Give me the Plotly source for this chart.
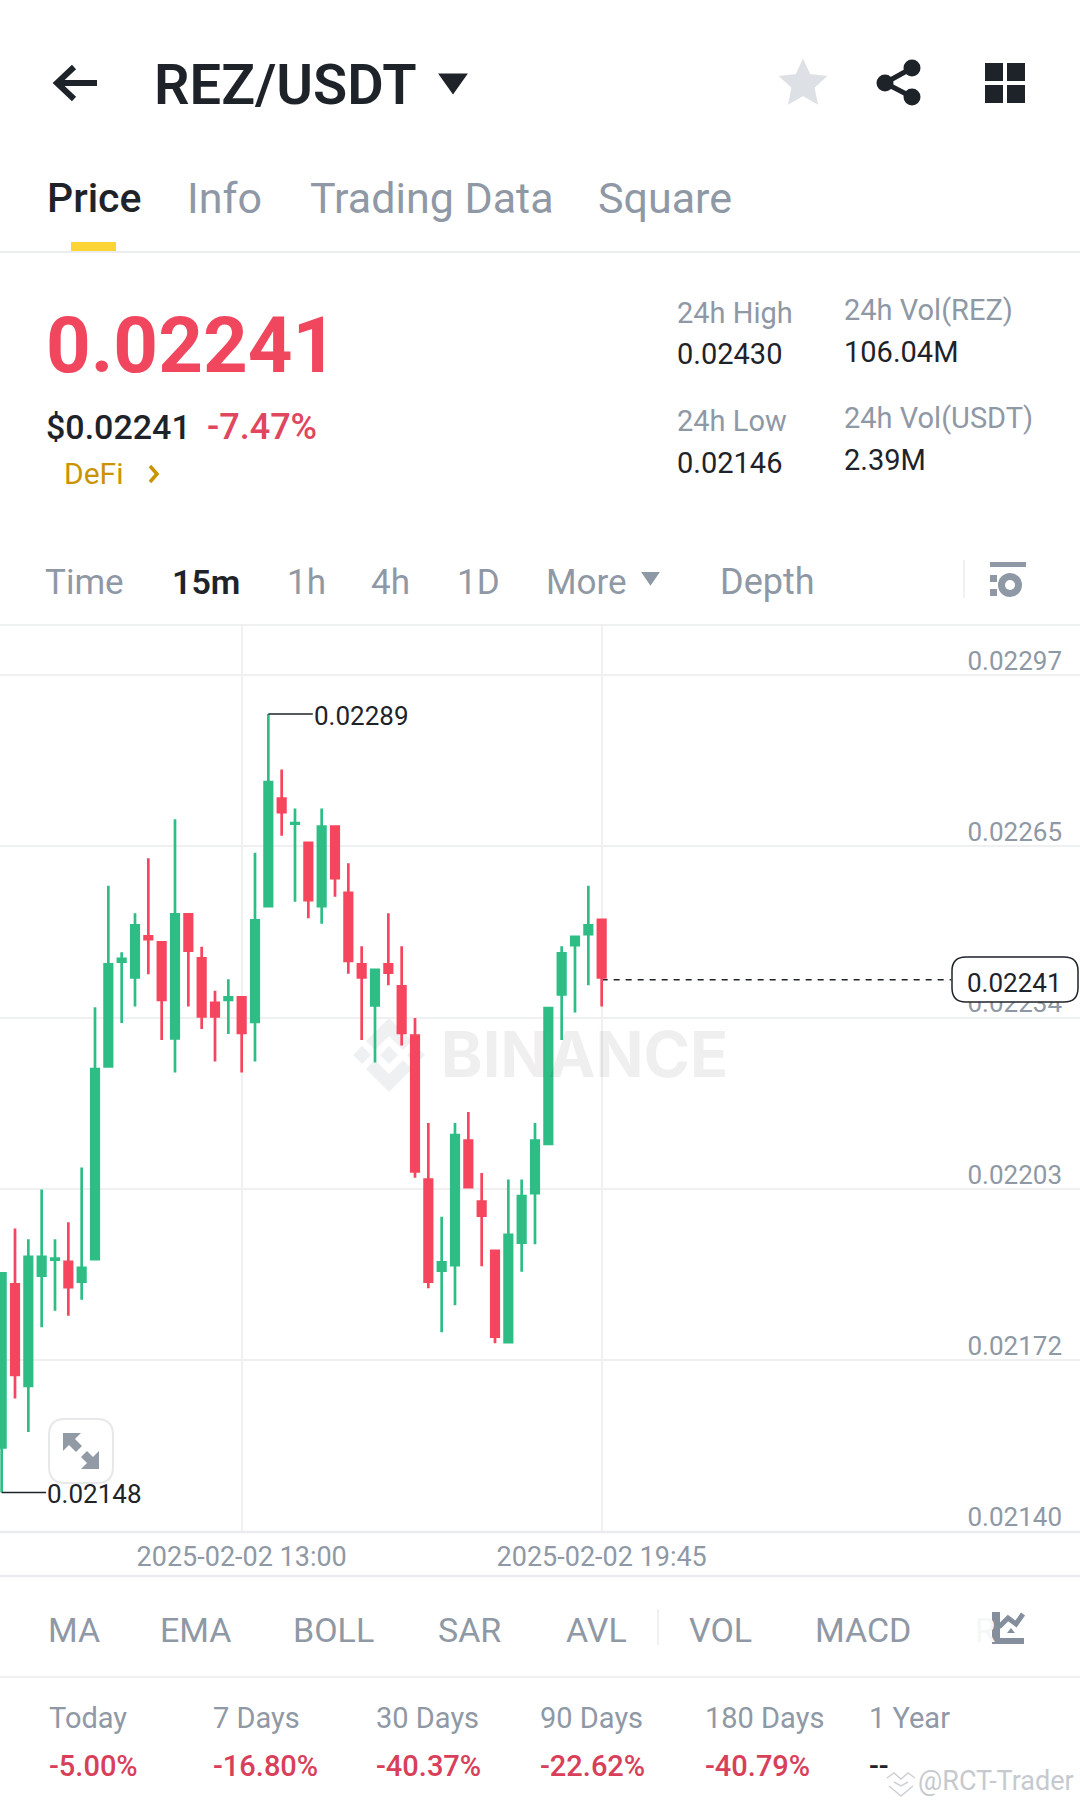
import math
import pandas as pd
import plotly.graph_objects as go

W = 1080
H = 1804

# 15m candles, 08:30 to 19:45
times = pd.date_range("2025-02-02 08:30", "2025-02-02 19:45", freq="15min")
opens = [0.021558, 0.021855, 0.021670, 0.021871, 0.021900, 0.021896, 0.021860, 0.021901, 0.022252, 0.022443,
         0.022414, 0.022489, 0.022478, 0.022303, 0.022529, 0.022449, 0.022368, 0.022373, 0.022378, 0.022333,
         0.022544, 0.022740, 0.022694, 0.022659, 0.022544, 0.022689, 0.022568, 0.022438, 0.022363, 0.022438,
         0.022398, 0.022308, 0.022046, 0.021880, 0.021890, 0.022117, 0.022006, 0.021916, 0.021750, 0.021931,
         0.022021, 0.022111, 0.022383, 0.022473, 0.022493, 0.022519]
highs = [0.021875, 0.021957, 0.021937, 0.022028, 0.021937, 0.021968, 0.022068, 0.022360, 0.022581, 0.022460,
         0.022531, 0.022631, 0.022478, 0.022702, 0.022529, 0.022470, 0.022390, 0.022411, 0.022378, 0.022641,
         0.022894, 0.022793, 0.022722, 0.022659, 0.022722, 0.022689, 0.022622, 0.022471, 0.022428, 0.022531,
         0.022471, 0.022340, 0.022149, 0.021978, 0.022149, 0.022169, 0.022058, 0.021916, 0.022046, 0.022046,
         0.022149, 0.022358, 0.022471, 0.022488, 0.022581, 0.022519]
lows = [0.021476, 0.021647, 0.021586, 0.021777, 0.021807, 0.021798, 0.021827, 0.021901, 0.022252, 0.022331,
        0.022361, 0.022420, 0.022300, 0.022241, 0.022361, 0.022320, 0.022261, 0.022311, 0.022241, 0.022261,
        0.022544, 0.022672, 0.022552, 0.022522, 0.022512, 0.022561, 0.022421, 0.022300, 0.022259, 0.022400,
        0.022290, 0.022049, 0.021848, 0.021768, 0.021817, 0.022032, 0.021888, 0.021748, 0.021750, 0.021878,
        0.021928, 0.022111, 0.022300, 0.022350, 0.022400, 0.022361]
closes = [0.021875, 0.021690, 0.021905, 0.021905, 0.021902, 0.021850, 0.021885, 0.022247, 0.022438, 0.022448,
          0.022509, 0.022484, 0.022373, 0.022529, 0.022463, 0.022343, 0.022343, 0.022378, 0.022313, 0.022518,
          0.022770, 0.022715, 0.022695, 0.022555, 0.022689, 0.022595, 0.022444, 0.022414, 0.022428, 0.022423,
          0.022313, 0.022061, 0.021860, 0.021895, 0.022127, 0.022032, 0.021980, 0.021760, 0.021945, 0.022016,
          0.022117, 0.022358, 0.022458, 0.022488, 0.022509, 0.022414]

price_ticks = [0.022965, 0.022654, 0.022341, 0.022029, 0.021718, 0.021405]
price_labels = ["0.02297", "0.02265", "0.02234", "0.02203", "0.02172", "0.02140"]
time_ticks = ["2025-02-02 13:00", "2025-02-02 19:45"]
time_labels = ["2025-02-02 13:00", "2025-02-02 19:45"]
last_price = "0.02241"

tabs = ["Price", "Info", "Trading Data", "Square"]
tab_x = [46, 186, 309, 597]
intervals = ["Time", "15m", "1h", "4h", "1D", "More", "Depth"]
interval_x = [44, 171, 286, 370, 456, 545, 719]
indicators = ["MA", "EMA", "BOLL", "SAR", "AVL", "VOL", "MACD"]
indicator_x = [47, 159, 292, 437, 565, 688, 814]
periods = ["Today", "7 Days", "30 Days", "90 Days", "180 Days", "1 Year"]
period_changes = ["-5.00%", "-16.80%", "-40.37%", "-22.62%", "-40.79%", "--"]
period_x = [48, 212, 375, 539, 704, 868]

GREEN = "#2EBD85"
RED = "#F6465D"
DARK = "#1E2329"
GRAY = "#8F98A5"
GRID = "#EEF0F2"
FONT = "Roboto"

fig = go.Figure(go.Candlestick(
    x=times, open=opens, high=highs, low=lows, close=closes,
    increasing=dict(line=dict(color=GREEN, width=2.7), fillcolor=GREEN),
    decreasing=dict(line=dict(color=RED, width=2.7), fillcolor=RED),
    whiskerwidth=0, showlegend=False, hoverinfo="skip"))


def px(x):
    return x / W


def py(y):
    return 1 - y / H


def label(x, y, text, size, color, weight=400, anchor="left", family=FONT):
    fig.add_annotation(xref="paper", yref="paper", x=px(x), y=py(y), text=text, showarrow=False,
                       xanchor=anchor, yanchor="middle", borderpad=0,
                       font=dict(family=family, size=size, color=color, weight=weight))


def rect(x0, y0, x1, y1, color, layer="above"):
    fig.add_shape(type="rect", xref="paper", yref="paper", x0=px(x0), x1=px(x1), y0=py(y0), y1=py(y1),
                  fillcolor=color, line_width=0, layer=layer)


def seg(x0, y0, x1, y1, color, width=2, layer="above"):
    fig.add_shape(type="line", xref="paper", yref="paper", x0=px(x0), x1=px(x1), y0=py(y0), y1=py(y1),
                  line=dict(color=color, width=width), layer=layer)


def dot(cx, cy, r, color):
    fig.add_shape(type="circle", xref="paper", yref="paper", x0=px(cx - r), x1=px(cx + r),
                  y0=py(cy + r), y1=py(cy - r), fillcolor=color, line_width=0)


def poly(points, color, line=0, layer="above"):
    path = "M " + " L ".join(f"{px(a):.5f},{py(b):.5f}" for a, b in points) + " Z"
    fig.add_shape(type="path", xref="paper", yref="paper", path=path, fillcolor=color,
                  line=dict(color=color, width=line), layer=layer)


def polyline(points, color, width):
    path = "M " + " L ".join(f"{px(a):.5f},{py(b):.5f}" for a, b in points)
    fig.add_shape(type="path", xref="paper", yref="paper", path=path,
                  line=dict(color=color, width=width))


def round_box(x0, y0, x1, y1, r, fill, edge, width):
    p = [f"M {px(x0 + r):.5f},{py(y0):.5f}", f"L {px(x1 - r):.5f},{py(y0):.5f}",
         f"Q {px(x1):.5f},{py(y0):.5f} {px(x1):.5f},{py(y0 + r):.5f}", f"L {px(x1):.5f},{py(y1 - r):.5f}",
         f"Q {px(x1):.5f},{py(y1):.5f} {px(x1 - r):.5f},{py(y1):.5f}", f"L {px(x0 + r):.5f},{py(y1):.5f}",
         f"Q {px(x0):.5f},{py(y1):.5f} {px(x0):.5f},{py(y1 - r):.5f}", f"L {px(x0):.5f},{py(y0 + r):.5f}",
         f"Q {px(x0):.5f},{py(y0):.5f} {px(x0 + r):.5f},{py(y0):.5f}", "Z"]
    fig.add_shape(type="path", xref="paper", yref="paper", path=" ".join(p), fillcolor=fill,
                  line=dict(color=edge, width=width))


def extreme_tag(t, price):
    # short leader from the wick tip, value text just past its end
    end = t + pd.Timedelta(minutes=50)
    fig.add_shape(type="line", x0=t, x1=end, y0=price, y1=price, line=dict(color=DARK, width=1.5))
    fig.add_annotation(x=end, y=price, text=f"{price:.5f}", showarrow=False, xanchor="left", yanchor="middle",
                       yshift=-2, borderpad=0, font=dict(family=FONT, size=26, color=DARK))


fig.update_layout(
    width=W, height=H, margin=dict(l=0, r=0, t=0, b=0, autoexpand=False),
    paper_bgcolor="white", plot_bgcolor="white", showlegend=False, boxgap=0.44, boxgroupgap=0, dragmode=False,
    xaxis=dict(type="date", range=["2025-02-02 08:28:07.5", "2025-02-03 04:43:07.5"],
               rangeslider=dict(visible=False), tickmode="array", tickvals=time_ticks, ticktext=time_labels,
               showgrid=True, gridcolor=GRID, gridwidth=1.5, zeroline=False, showline=False, ticks="",
               tickangle=0, ticklabelstandoff=6, tickfont=dict(family=FONT, size=27, color=GRAY)),
    yaxis=dict(domain=[py(1532), py(625)], range=[0.021404, 0.023056], side="right", tickmode="array",
               tickvals=price_ticks, ticktext=price_labels, showgrid=True, gridcolor=GRID, gridwidth=1.5,
               zeroline=False, showline=False, ticks="", ticklabelposition="inside top",
               ticklabeloverflow="allow", ticklabelstandoff=15, ticklabelshift=4,
               tickfont=dict(family=FONT, size=26, color=GRAY)),
)

# rule lines between the panels
seg(0, 252, W, 252, "#EAECEF", 2)
seg(0, 625, W, 625, GRID, 2)
seg(0, 1532, W, 1532, "#EAECEF", 2.5)
seg(0, 1576, W, 1576, "#EAECEF", 2.5)
seg(0, 1677, W, 1677, GRID, 2)

# header icons
polyline([(97, 83), (58, 83)], DARK, 6)
polyline([(74, 67), (57, 83), (74, 99)], DARK, 6)
label(153, 85, "REZ/USDT", 56, DARK, 600)
poly([(441, 75), (465, 75), (453, 92)], DARK, 3)
star = []
for i in range(10):
    r = 22 if i % 2 == 0 else 10.5
    a = math.pi * i / 5 - math.pi / 2
    star.append((803 + r * math.cos(a), 84 + r * math.sin(a)))
poly(star, "#DDE0E4", 3)
seg(912, 68, 885, 83, DARK, 5)
seg(885, 83, 912, 97, DARK, 5)
dot(912, 68, 8.5, DARK)
dot(885, 83, 8.5, DARK)
dot(912, 97, 8.5, DARK)
rect(985, 63, 1003, 81, DARK)
rect(1007, 63, 1025, 81, DARK)
rect(985, 85, 1003, 103, DARK)
rect(1007, 85, 1025, 103, DARK)

# tabs
for i, tab in enumerate(tabs):
    label(tab_x[i], 198, tab, 41 if i == 0 else 43, DARK if i == 0 else GRAY, 500 if i == 0 else 400)
rect(71, 242, 116, 251, "#FCD535")

# price block
label(45, 345, "0.02241", 78, "#F0475F", 700)
label(45, 427, "$0.02241", 34, DARK, 500)
label(206, 427, "-7.47%", 36, "#E0465E", 500)
label(63, 474, "DeFi", 30, "#C99400")
polyline([(150, 466), (157, 474), (150, 482)], "#C99400", 3.5)
label(676, 313, "24h High", 29, GRAY)
label(676, 354, "0.02430", 29, DARK)
label(843, 310, "24h Vol(REZ)", 29, GRAY)
label(843, 352, "106.04M", 29, DARK)
label(676, 421, "24h Low", 29, GRAY)
label(676, 463, "0.02146", 29, DARK)
label(843, 418, "24h Vol(USDT)", 29, GRAY)
label(843, 460, "2.39M", 29, DARK)

# interval row
for i, item in enumerate(intervals):
    size = 36 if item == "Depth" else 34 if item == "15m" else 35
    label(interval_x[i], 582, item, size, DARK if item == "15m" else GRAY, 600 if item == "15m" else 400)
poly([(643, 573), (658, 573), (650.5, 584)], GRAY, 2)
seg(964, 560, 964, 598, "#EAECEF", 1.5)
rect(990, 562, 1026, 567, GRAY)
rect(990, 575, 997, 582, GRAY)
rect(990, 589, 997, 596, GRAY)
dot(1010, 585, 12, GRAY)
dot(1010, 585, 5, "white")

# watermark, sits faintly over the candles
wm = "rgba(30,35,41,0.07)"
poly([(389, 1018), (412, 1041), (403, 1050), (389, 1036), (375, 1050), (366, 1041)], GRID, layer="below")
poly([(389, 1092), (412, 1069), (403, 1060), (389, 1074), (375, 1060), (366, 1069)], GRID, layer="below")
poly([(389, 1046), (398, 1055), (389, 1064), (380, 1055)], GRID, layer="below")
poly([(362, 1046), (371, 1055), (362, 1064), (353, 1055)], GRID, layer="below")
poly([(416, 1046), (425, 1055), (416, 1064), (407, 1055)], GRID, layer="below")
label(440, 1054, "BINANCE", 63, wm, 700, family="Inter")

# high and low tags on the candles
hi = highs.index(max(highs))
lo = lows.index(min(lows))
extreme_tag(times[hi], highs[hi])
extreme_tag(times[lo], lows[lo])

# last price line and tag
fig.add_shape(type="line", x0=times[-1], x1="2025-02-03 02:18", y0=float(last_price), y1=float(last_price),
              line=dict(color=DARK, width=1.5, dash="6px,6px"), layer="below")
round_box(952, 957, 1078, 1002, 14, "white", DARK, 1.5)
label(966, 983, last_price, 26, DARK)

# expand button
round_box(49, 1419, 113, 1483, 16, "white", "#E6E8EB", 2)
poly([(63, 1433), (81, 1433), (75, 1439), (82, 1446), (76, 1452), (69, 1445), (63, 1451)], "#929AA5")
poly([(99, 1469), (81, 1469), (87, 1463), (81, 1457), (87, 1451), (93, 1457), (99, 1451)], "#929AA5")

# indicator row
for i, item in enumerate(indicators):
    label(indicator_x[i], 1630, item, 34, GRAY)
seg(658, 1609, 658, 1645, "#EAECEF", 1.5)
label(974, 1630, "R", 33, "#F5F6F7")
rect(992, 1612, 1000, 1644, "#848E9C")
rect(992, 1638, 1024, 1644, "#848E9C")
polyline([(999, 1627), (1008, 1618), (1016, 1624), (1023, 1614)], "#848E9C", 5)
poly([(1007, 1633), (1015, 1633), (1011, 1628)], "#848E9C")

# period changes
for i, item in enumerate(periods):
    label(period_x[i], 1718, item, 29, GRAY)
    label(period_x[i], 1766, period_changes[i], 29, DARK if period_changes[i] == "--" else "#D8405A", 500)

# corner credit
label(917, 1781, "@RCT-Trader", 27, "#C6CACF")
polyline([(887, 1778), (894, 1773), (901, 1779), (908, 1773), (915, 1778)], "#CDD0D5", 1.5)
polyline([(894, 1782), (901, 1786), (908, 1782)], "#CDD0D5", 1.5)
polyline([(889, 1786), (901, 1796), (913, 1786)], "#CDD0D5", 1.5)

# the page has a default body margin, the picture runs edge to edge
fig.write_html("out.html", config={"displayModeBar": False}, post_script="document.body.style.margin='0';")
